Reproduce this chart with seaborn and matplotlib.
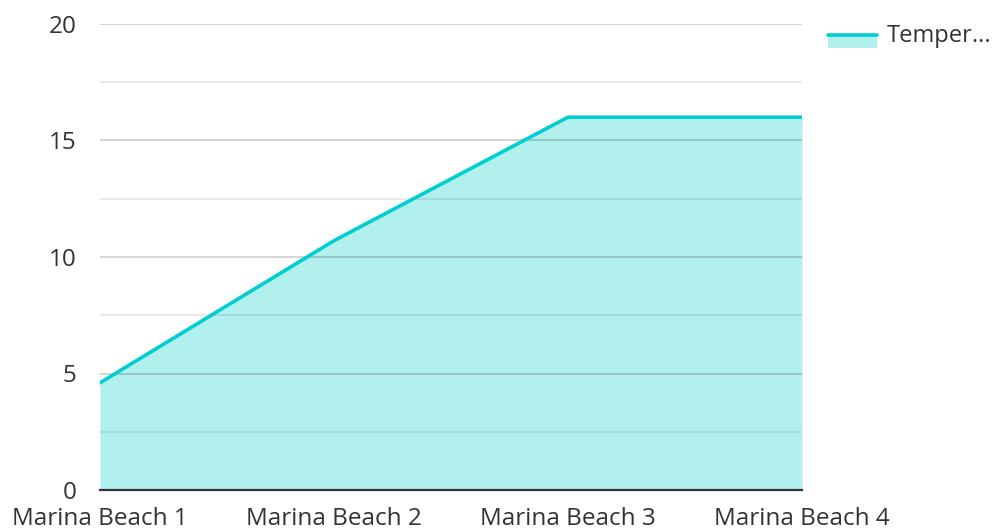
import matplotlib
matplotlib.use("Agg")
import matplotlib.pyplot as plt
import seaborn as sns
import pandas as pd
from matplotlib.patches import Rectangle
from matplotlib.lines import Line2D

categories = ["Marina Beach 1", "Marina Beach 2", "Marina Beach 3", "Marina Beach 4"]
temperature = [4.6, 10.7, 16.0, 16.0]
y_ticks = [0, 5, 10, 15, 20]
legend_label = "Temper..."

LINE = "#00CED1"
FILL = "#B2F0EE"

sns.set_theme(style="white")
plt.rcParams["font.family"] = ["Open Sans", "DejaVu Sans"]

df = pd.DataFrame({"x": range(len(categories)), "Temperature": temperature})

fig = plt.figure(figsize=(9.92, 5.31), dpi=100)
ax = fig.add_axes([100/992, 41/531, 702/992, 466/531])

ax.fill_between(df["x"], 0, df["Temperature"], color=FILL, linewidth=0, zorder=1)
sns.lineplot(data=df, x="x", y="Temperature", ax=ax, color=LINE, linewidth=2.6, zorder=3)

ax.set_xlim(0, len(categories) - 1)
ax.set_ylim(0, 20)
ax.set_xticks(range(len(categories)))
ax.set_xticklabels(categories)
ax.set_yticks(y_ticks)
ax.set_yticks([2.5, 7.5, 12.5, 17.5], minor=True)
ax.set_axisbelow("line")
ax.grid(which="major", axis="y", color="black", alpha=0.2, linewidth=1.2)
ax.grid(which="minor", axis="y", color="black", alpha=0.1, linewidth=1.2)
ax.grid(which="major", axis="x", visible=False)
ax.set_xlabel("")
ax.set_ylabel("")
for s in ["top", "left", "right"]:
    ax.spines[s].set_visible(False)
ax.spines["bottom"].set_color("#333333")
ax.spines["bottom"].set_linewidth(1.6)
ax.spines["bottom"].set_zorder(4)
ax.tick_params(axis="both", which="both", length=0, labelsize=17.5, colors="#333333")
ax.tick_params(axis="y", pad=17)
ax.tick_params(axis="x", pad=12)

# legend
fig.add_artist(Rectangle((828/992, 1 - 48/531), 49/992, 14/531, transform=fig.transFigure,
                         facecolor=FILL, edgecolor="none"))
fig.add_artist(Line2D([828/992, 877/992], [1 - 35/531, 1 - 35/531], transform=fig.transFigure,
                      color=LINE, linewidth=2.6))
fig.text(887/992, 1 - 36/531, legend_label, fontsize=17, color="#333333", va="center", ha="left")

fig.savefig("out.png", dpi=100)
